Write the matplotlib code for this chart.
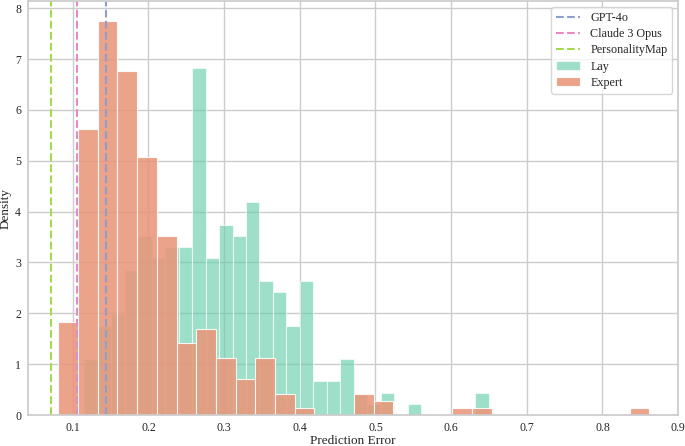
import numpy as np
import matplotlib
matplotlib.use('Agg')
import matplotlib.pyplot as plt
import seaborn as sns

# histogram densities (30 bins each)
lay_start = 0.115
lay_width = 0.01783
lay_density = [1.10, 1.76, 1.98, 2.86, 3.52, 3.08, 3.30, 3.30, 6.82, 3.08,
               3.74, 3.52, 4.18, 2.64, 2.42, 1.76, 2.64, 0.66, 0.66, 1.10,
               0.42, 0.22, 0.44, 0.0, 0.22, 0.0, 0.0, 0.0, 0.0, 0.44]

expert_start = 0.081
expert_width = 0.02603
expert_density = [1.82, 5.63, 7.75, 6.76, 5.07, 3.52, 1.41, 1.69, 1.13, 0.70,
                  1.13, 0.42, 0.14, 0.0, 0.0, 0.42, 0.28, 0.0, 0.0, 0.0,
                  0.14, 0.14, 0.0, 0.0, 0.0, 0.0, 0.0, 0.0, 0.0, 0.14]

model_names = ['GPT-4o', 'Claude 3 Opus', 'PersonalityMap']
model_errors = [0.1445, 0.1057, 0.0713]
model_colors = ['#8da0cb', '#e78ac3', '#a6d854']

sns.set_theme(style='whitegrid')
plt.rcParams['font.family'] = ['Liberation Serif', 'DejaVu Serif']

fig = plt.figure(figsize=(6.85, 4.46), dpi=100)
ax = fig.add_axes([0.041, 0.0695, 0.949, 0.928])

lay_edges = lay_start + lay_width * np.arange(len(lay_density) + 1)
exp_edges = expert_start + expert_width * np.arange(len(expert_density) + 1)

for name, err, col in zip(model_names, model_errors, model_colors):
    ax.axvline(err, color=col, linestyle='--', linewidth=1.5, label=name)

ax.bar(lay_edges[:-1], lay_density, width=lay_width, align='edge',
       color='#66cdaa', alpha=0.64, edgecolor='white', linewidth=0.8, label='Lay')
ax.bar(exp_edges[:-1], expert_density, width=expert_width, align='edge',
       color='#e9967a', alpha=0.88, edgecolor='white', linewidth=0.8, label='Expert')

ax.set_xlim(0.041, 0.9)
ax.set_ylim(0, 8.14)
ax.set_xticks(np.arange(0.1, 0.91, 0.1))
ax.set_xticklabels(['{:.1f}'.format(v) for v in np.arange(0.1, 0.91, 0.1)])
ax.set_yticks(range(0, 9))
ax.tick_params(labelsize=8.5, length=0, pad=5)
ax.set_xlabel('Prediction Error', fontsize=9.5)
ax.set_ylabel('Density', fontsize=9.5)
ax.xaxis.set_label_coords(0.5, -0.049)
ax.yaxis.set_label_coords(-0.025, 0.5)

ax.legend(loc='upper right', fontsize=8.7, frameon=True, framealpha=0.8,
          labelspacing=0.35)

fig.savefig('out.png', dpi=100)
